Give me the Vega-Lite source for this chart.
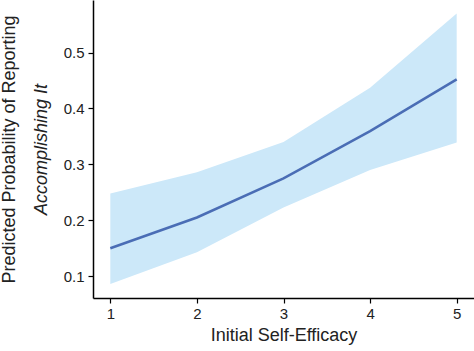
{
  "$schema": "https://vega.github.io/schema/vega-lite/v6.json",
  "width": 381,
  "height": 298,
  "autosize": "none",
  "padding": {"left": 93, "top": 0, "right": 0, "bottom": 53},
  "background": "white",
  "config": {
    "view": {"stroke": null},
    "font": "Liberation Sans",
    "axis": {
      "grid": false,
      "domainColor": "black",
      "domainWidth": 1.5,
      "tickColor": "black",
      "tickWidth": 1.2,
      "tickSize": 5,
      "labelColor": "#222222",
      "labelFontSize": 15,
      "labelFont": "Liberation Sans",
      "titleFont": "Liberation Sans",
      "titleFontSize": 18,
      "titleFontWeight": "normal",
      "titleColor": "#222222"
    }
  },
  "data": {
    "values": [
      {"efficacy": 1, "est": 0.150, "lower": 0.086, "upper": 0.248},
      {"efficacy": 2, "est": 0.205, "lower": 0.143, "upper": 0.286},
      {"efficacy": 3, "est": 0.275, "lower": 0.223, "upper": 0.340},
      {"efficacy": 4, "est": 0.3595, "lower": 0.290, "upper": 0.437},
      {"efficacy": 5, "est": 0.452, "lower": 0.339, "upper": 0.570}
    ]
  },
  "encoding": {
    "x": {
      "field": "efficacy",
      "type": "quantitative",
      "scale": {"domain": [0.8, 5.2], "nice": false, "zero": false},
      "axis": {"values": [1, 2, 3, 4, 5], "format": "d", "title": "Initial Self-Efficacy", "labelPadding": 3, "titlePadding": 5}
    }
  },
  "layer": [
    {
      "mark": {"type": "area", "color": "#cce8f9", "opacity": 1},
      "encoding": {
        "y": {
          "field": "lower",
          "type": "quantitative",
          "scale": {"domain": [0.061, 0.594], "nice": false, "zero": false},
          "axis": {"values": [0.1, 0.2, 0.3, 0.4, 0.5], "format": ".1f", "title": "Accomplishing It", "titleFontStyle": "italic", "labelPadding": 4, "titlePadding": 13}
        },
        "y2": {"field": "upper"}
      }
    },
    {
      "mark": {"type": "line", "color": "#4a6db5", "strokeWidth": 2.5},
      "encoding": {
        "y": {
          "field": "est",
          "type": "quantitative",
          "scale": {"domain": [0.061, 0.594], "nice": false, "zero": false},
          "axis": {"orient": "left", "title": "Predicted Probability of Reporting", "labels": false, "ticks": false, "domain": false, "titlePadding": 0, "offset": 75}
        }
      }
    }
  ],
  "resolve": {"scale": {"y": "independent"}, "axis": {"y": "independent"}}
}
